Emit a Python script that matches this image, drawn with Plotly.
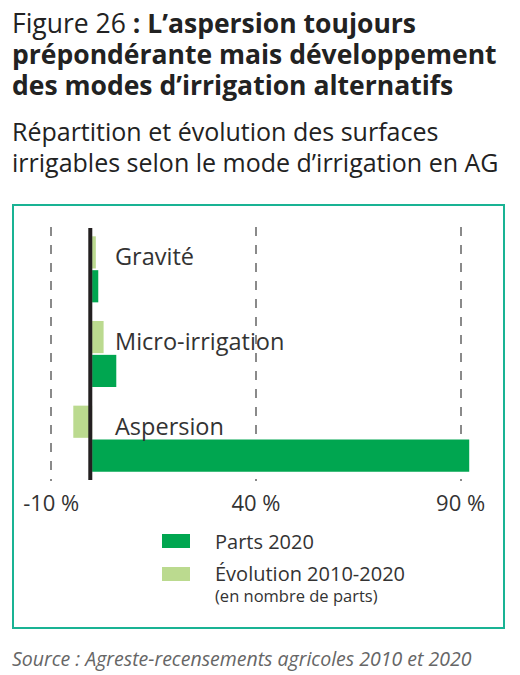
import plotly.graph_objects as go

categories = ["Gravité", "Micro-irrigation", "Aspersion"]
parts_2020 = [1.5, 5.9, 92.1]
evolution_2010_2020 = [0.9, 2.8, -4.6]
tick_vals = [-10, 40, 90]
tick_text = ["-10 %", "40 %", "90 %"]

GREEN = "#00a650"
LIGHT = "#bbda8f"
TEXT = "#333333"
FONT = "Open Sans"

W, H = 520, 675
L, R, T, B = 43, 43, 227, 194
PW, PH = W - L - R, H - T - B


def px(x):
    return (x - L) / PW


def py(y):
    return (H - B - y) / PH


def sized(txt, s):
    return f"<span style='font-size:{s}px'>{txt}</span>"


fig = go.Figure()
fig.add_trace(go.Bar(y=categories, x=evolution_2010_2020, orientation="h",
                     marker=dict(color=LIGHT, line=dict(width=0)),
                     name="Évolution 2010-2020", showlegend=False, hoverinfo="x+y"))
fig.add_trace(go.Bar(y=categories, x=parts_2020, orientation="h",
                     marker=dict(color=GREEN, line=dict(width=0)),
                     name="Parts 2020", showlegend=False, hoverinfo="x+y"))

annotations = []
# category labels
for c in categories:
    annotations.append(dict(x=5.2, y=c, xref="x", yref="y", text=c, showarrow=False,
                            xanchor="left", yanchor="middle", yshift=13,
                            font=dict(family=FONT, size=23.5, color=TEXT)))

# title (base size 24 -> line spacing ~31px, glyphs drawn larger)
title_html = "<br>".join([
    sized("Figure 26 <b>: L’aspersion toujours</b>", 26.5),
    sized("<b>prépondérante mais développement</b>", 26.5),
    sized("<b>des modes d’irrigation alternatifs</b>", 26.5),
])
subtitle_html = "<br>".join([
    sized("Répartition et évolution des surfaces", 25),
    sized("irrigables selon le mode d’irrigation en AG", 25),
])
annotations += [
    dict(x=px(10), y=py(54), xref="paper", yref="paper", text=title_html,
         showarrow=False, xanchor="left", yanchor="middle", align="left",
         font=dict(family=FONT, size=24, color="#222222")),
    dict(x=px(10), y=py(146.5), xref="paper", yref="paper", text=subtitle_html,
         showarrow=False, xanchor="left", yanchor="middle", align="left",
         font=dict(family=FONT, size=24, color="#222222")),
]

# legend labels
annotations += [
    dict(x=px(213), y=py(541), xref="paper", yref="paper", text="Parts 2020",
         showarrow=False, xanchor="left", yanchor="middle",
         font=dict(family=FONT, size=20, color=TEXT)),
    dict(x=px(213), y=py(583.5), xref="paper", yref="paper",
         text=sized("Évolution 2010-2020", 20) + "<br>(en nombre de parts)",
         showarrow=False, xanchor="left", yanchor="middle", align="left",
         font=dict(family=FONT, size=16.5, color=TEXT)),
    dict(x=px(10), y=py(658), xref="paper", yref="paper",
         text="<i>Source : Agreste-recensements agricoles 2010 et 2020</i>",
         showarrow=False, xanchor="left", yanchor="middle",
         font=dict(family=FONT, size=19.5, color="#666666")),
]

shapes = [
    # frame
    dict(type="rect", xref="paper", yref="paper", x0=px(13), x1=px(504), y0=py(628), y1=py(205),
         line=dict(color="#19b394", width=2), fillcolor="rgba(0,0,0,0)", layer="below"),
    # zero line
    dict(type="line", xref="x", yref="paper", x0=-0.45, x1=-0.45, y0=py(480), y1=py(228),
         line=dict(color="#231f20", width=4)),
    # legend swatches
    dict(type="rect", xref="paper", yref="paper", x0=px(162), x1=px(190), y0=py(548), y1=py(534),
         line=dict(width=0), fillcolor=GREEN),
    dict(type="rect", xref="paper", yref="paper", x0=px(162), x1=px(190), y0=py(581), y1=py(567),
         line=dict(width=0), fillcolor=LIGHT),
]

fig.update_layout(
    width=W, height=H,
    margin=dict(l=L, r=R, t=T, b=B),
    paper_bgcolor="white", plot_bgcolor="white",
    barmode="group", bargap=0.2, bargroupgap=0.05,
    showlegend=False,
    annotations=annotations, shapes=shapes,
    xaxis=dict(range=[-12, 94], tickvals=tick_vals, ticktext=tick_text,
               showgrid=True, griddash="dash", gridcolor="#8a8a8a", gridwidth=1.5,
               zeroline=False, showline=False, ticks="", ticklabelstandoff=7,
               tickfont=dict(family=FONT, size=22, color=TEXT), fixedrange=True),
    yaxis=dict(autorange="reversed", showticklabels=False, showgrid=False,
               zeroline=False, showline=False, fixedrange=True),
)

fig.write_html("out.html")
